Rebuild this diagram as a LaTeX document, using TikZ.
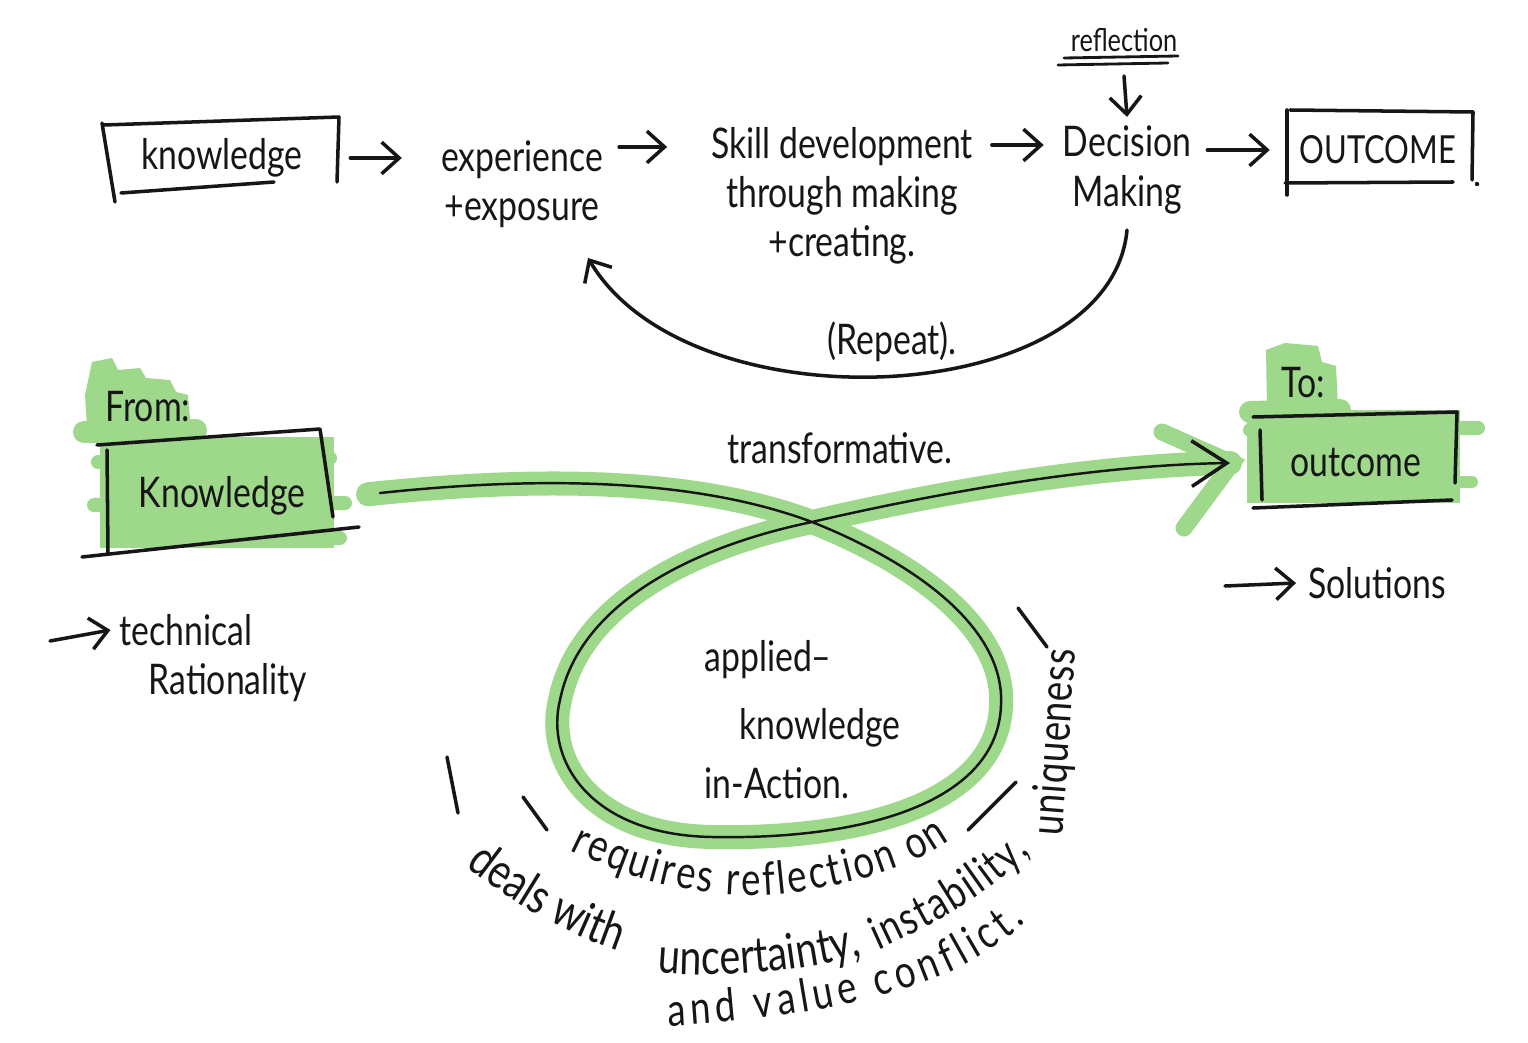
\documentclass[tikz,border=0pt]{standalone}
\usepackage{fontspec}
\setmainfont[FakeStretch=0.8]{Lato}
\usetikzlibrary{arrows.meta,decorations.text}
\definecolor{hl}{RGB}{158,216,138}
\definecolor{ink}{RGB}{22,22,22}
\begin{document}
\begin{tikzpicture}[x=0.01cm,y=-0.01cm,
  txt/.style={font=\fontsize{12}{14}\selectfont, align=center, inner sep=1pt, text=ink},
  smalltxt/.style={font=\fontsize{9}{11}\selectfont, inner sep=1pt, text=ink},
  pen/.style={draw=ink, line width=1pt, line cap=round, line join=round},
  thinpen/.style={draw=ink, line width=0.7pt, line cap=round},
  arr/.style={pen, -{Straight Barb[length=5pt,width=9pt]}},
  marker/.style={draw=hl, line cap=round, line width=0.22cm},
  alongtext/.style={decorate, decoration={text along path, text align={fit to path}, text color=ink}},
  centertext/.style={decorate, decoration={text along path, text align=center, text color=ink}},
]
\useasboundingbox (0,0) rectangle (1528,1043);
\fill[white] (0,0) rectangle (1528,1043);

% ---------------- top row ----------------
\node[txt, minimum width=2.35cm, minimum height=0.7cm] (k1) at (222,158) {knowledge};
\draw[pen] (104,125) -- (339,117) -- (337,182);
\draw[pen] (102,123) -- (115,202);
\draw[pen] (121,193) -- (274,182);

\node[txt] (exp) at (522,184) {experience\\+exposure};
\node[txt] (skill) at (842,196) {Skill development\\through making\\+creating.};
\node[txt] (dec) at (1127,170) {Decision\\Making};
\node[txt, font=\fontsize{11}{13}\selectfont, minimum width=1.85cm, minimum height=0.7cm] (out1) at (1378,150) {OUTCOME};
\draw[pen] (1290,110) -- (1473,112) -- (1472,180);
\draw[pen] (1287,110) -- (1287,195);
\draw[pen] (1285,183) -- (1453,182);
\fill[ink] (1477,184) circle (2.2);

\node[smalltxt] (refl) at (1124,40) {reflection};
\draw[pen, line width=0.8pt] (1064,58) -- (1178,56);
\draw[pen, line width=0.8pt] (1058,65) -- (1168,63);

\draw[arr] ([xshift=0.1cm]k1.east) -- ([xshift=-0.35cm]k1.east -| exp.west);
\draw[arr] ([xshift=0.12cm,yshift=0.37cm]exp.east) -- ([xshift=-0.4cm,yshift=0.37cm]exp.east -| skill.west);
\draw[arr] ([xshift=0.15cm,yshift=0.25cm]dec.west -| skill.east) -- ([xshift=-0.15cm,yshift=0.25cm]dec.west);
\draw[arr] ([xshift=0.12cm]dec.east |- out1.east) -- ([xshift=-0.15cm]out1.west);
\draw[arr] ([yshift=-0.2cm]refl.south) -- ([yshift=0.05cm]dec.north);

\coordinate (rptend) at (588,258);
\draw[arr] ([yshift=-0.12cm]dec.south) .. controls (1110,410) and (690,430) .. (rptend);
\node[txt] (rpt) at (892,342) {(Repeat).};

% ---------------- highlights ----------------
\fill[hl] (88,443) -- (85,395) -- (92,362) -- (112,358) -- (118,370) -- (140,368) -- (146,378) -- (170,380) -- (176,392) -- (188,395) -- (192,443) -- cycle;
\draw[marker] (84,432) -- (196,430);
\fill[hl] (100,437) rectangle (334,548);
\draw[marker, line width=0.14cm] (98,462) -- (330,458);
\draw[marker, line width=0.14cm] (94,505) -- (345,503);
\draw[marker, line width=0.14cm] (112,540) -- (340,538);

\fill[hl] (1267,410) -- (1266,350) -- (1285,343) -- (1318,346) -- (1322,362) -- (1336,366) -- (1338,410) -- cycle;
\draw[marker] (1250,412) -- (1340,410);
\fill[hl] (1247,410) rectangle (1460,503);
\draw[marker, line width=0.14cm] (1250,430) -- (1478,428);
\draw[marker, line width=0.12cm] (1455,482) -- (1472,482);

% ---------------- bottom labels ----------------
\node[txt] (from) at (148,407) {From:};
\node[txt] (k2) at (222,496) {Knowledge};
\draw[pen] (97,445) -- (320,429) -- (333,517);
\draw[pen] (107,450) -- (108,553);
\draw[pen] (82,557) -- (359,527);

\node[txt] (to) at (1303,383) {To:};
\node[txt] (out2) at (1356,463) {outcome};
\draw[pen] (1253,417) -- (1457,412) -- (1455,483);
\draw[pen] (1260,430) -- (1262,500);
\draw[pen] (1253,508) -- (1452,500);

\node[txt] (tech) at (186,630) {technical};
\node[txt] (rat) at (228,683) {Rationality};
\coordinate (techarr) at (50,641);
\draw[arr] (techarr) -- ([xshift=-0.05cm]tech.west);

\node[txt] (sol) at (1377,583) {Solutions};
\coordinate (solarr) at (1225,586);
\draw[arr] (solarr) -- ([xshift=-0.08cm]sol.west);

\node[txt] (trans) at (840,448) {transformative.};

% ---------------- loop ----------------
\coordinate (loopstart) at (380,493);
\coordinate (loopend) at (1230,463);
\draw[marker, line width=0.24cm, shorten <=-0.12cm]
  (loopstart) .. controls (550,475) and (700,480) .. (812,522)
  .. controls (920,565) and (1005,630) .. (1001,705)
  .. controls (998,800) and (870,840) .. (712,837)
  .. controls (590,835) and (545,760) .. (560,700)
  .. controls (580,600) and (700,545) .. (812,522)
  .. controls (950,490) and (1100,465) .. (loopend);
\draw[marker, line width=0.17cm] (1162,432) -- (1232,463) -- (1184,528);
\draw[thinpen, -{Straight Barb[length=10pt,width=13pt,line width=1pt]}]
  (loopstart) .. controls (550,475) and (700,480) .. (812,522)
  .. controls (920,565) and (1005,630) .. (1001,705)
  .. controls (998,800) and (870,840) .. (712,837)
  .. controls (590,835) and (545,760) .. (560,700)
  .. controls (580,600) and (700,545) .. (812,522)
  .. controls (950,490) and (1100,465) .. (loopend);

\node[txt] (ap1) at (768,660) {applied–};
\node[txt] (ap2) at (820,728) {knowledge};
\node[txt] (ap3) at (777,783) {in-Action.};

% ---------------- curved annotations ----------------
\draw[pen] (447,757) -- (458,813);
\draw[pen] (523,797) -- (547,830);
\draw[pen] (968,830) -- (1016,782);
\draw[pen] (1018,608) -- (1047,647);

\path[alongtext, decoration={text={|\fontsize{13}{15}\selectfont|requires reflection on}}]
  (570,850) .. controls (640,885) and (720,902) .. (790,893) .. controls (860,884) and (915,865) .. (950,840);

\path[centertext, decoration={text={|\fontsize{14}{16}\selectfont|deals with}}]
  (448,852) .. controls (500,895) and (560,935) .. (640,958);
\path[centertext, decoration={text={|\fontsize{14}{16}\selectfont|uncertainty,}}]
  (652,972) .. controls (730,980) and (805,970) .. (868,954);
\path[alongtext, decoration={text={|\fontsize{13}{15}\selectfont|instability,}}]
  (878,950) .. controls (932,926) and (995,890) .. (1030,852);
\path[alongtext, decoration={text={|\fontsize{13}{15}\selectfont|uniqueness}}]
  (1062,836) .. controls (1067,776) and (1071,716) .. (1075,650);

\path[alongtext, decoration={text={|\fontsize{13}{15}\selectfont|and value conflict.}}]
  (668,1026) .. controls (780,1021) and (890,1001) .. (958,968) .. controls (985,953) and (1008,940) .. (1026,922);

\end{tikzpicture}
\end{document}
